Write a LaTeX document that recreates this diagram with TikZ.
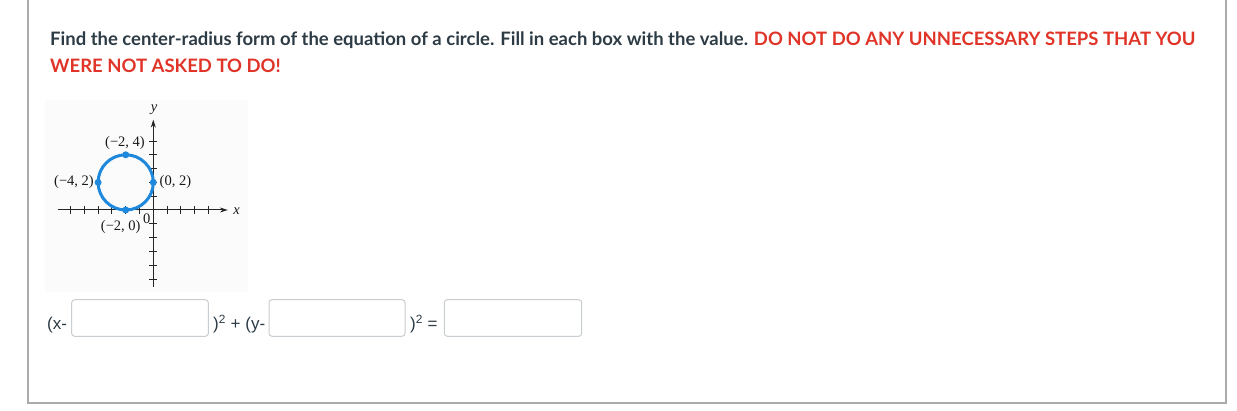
\documentclass[tikz,border=0pt]{standalone}
\usepackage{fontspec}
\setmainfont{Lato}
\newfontfamily\labelfont{Liberation Serif}
\newfontfamily\eqfont{Liberation Sans}
\usetikzlibrary{arrows.meta}
\definecolor{txt}{RGB}{45,59,69}
\definecolor{warn}{RGB}{224,52,40}
\definecolor{circ}{RGB}{30,136,220}
\definecolor{framec}{RGB}{170,170,170}
\definecolor{boxc}{RGB}{200,205,209}
\definecolor{graphbg}{RGB}{251,251,251}
\tikzset{
  qtext/.style={anchor=base west, inner sep=0pt, font=\fontsize{18.5}{27}\selectfont\bfseries},
  eqtext/.style={anchor=base west, inner sep=0pt, text=txt, font=\eqfont\fontsize{17}{20}\selectfont},
  inputbox/.style={draw=boxc, line width=1pt, rounded corners=3pt, minimum height=36.6pt, inner sep=0pt, fill=white},
  lab/.style={inner sep=0pt, font=\labelfont\fontsize{14.5}{16}\selectfont, text=black!90},
  dot/.style={circle, fill=circ, inner sep=0pt, minimum size=7pt},
  axis/.style={line width=1pt, black!85},
  tick/.style={line width=0.9pt, black!85}
}
\begin{document}
\begin{tikzpicture}[x=1pt,y=-1pt]
\useasboundingbox (0,0) rectangle (1237,411);
\draw[framec, line width=1.3pt] (28,-3) -- (28,403) -- (1226,403) -- (1226,-3);

\node[qtext, text=txt] (q1) at (50,46) {Find the center-radius form of the equation of a circle. Fill in each box with the value. \textcolor{warn}{DO NOT DO ANY UNNECESSARY STEPS THAT YOU}};
\node[qtext, text=warn] (q2) at (50,73) {WERE NOT ASKED TO DO!};

\fill[graphbg] (45,100) rectangle (248,292);

\begin{scope}[shift={(153.3,210)}, x=13.8pt, y=13.8pt]
  \coordinate (xl) at (-6.9,0);
  \coordinate (xr) at (5.4,0);
  \coordinate (yb) at (0,-5.55);
  \coordinate (yt) at (0,6.55);
  \draw[axis, -{Stealth[length=8pt,width=5pt]}] (xl) -- (xr);
  \draw[axis, -{Stealth[length=8pt,width=5pt]}] (yb) -- (yt);
  \foreach \i in {-6,...,-1,1,2,3,4} \draw[tick] (\i,-0.3) -- (\i,0.3);
  \foreach \j in {-5,...,-1,1,2,3,4,5} \draw[tick] (-0.3,\j) -- (0.3,\j);
  \draw[circ, line width=3pt] (-2,2) circle[radius=2];
  \node[dot] (ptop) at (-2,4) {};
  \node[dot] (pleft) at (-4,2) {};
  \node[dot] (pright) at (0,2) {};
  \node[dot] (pbot) at (-2,0) {};
  \node[lab] (ltop) at (-2.05,4.88) {(−2, 4)};
  \node[lab, anchor=east] (lleft) at (-4.3,2.0) {(−4, 2)};
  \node[lab, anchor=west] (lright) at (0.45,2.0) {(0, 2)};
  \node[lab] (lbot) at (-2.36,-1.21) {(−2, 0)};
  \node[lab] (lo) at (-0.48,-0.6) {0};
  \node[lab] (ly) at (0.05,7.25) {\itshape y};
  \node[lab] (lx) at (6.04,-0.1) {\itshape x};
\end{scope}

\node[eqtext] (e1) at (47,330) {(x-};
\node[inputbox, minimum width=136.6pt] (b1) at (140,318) {};
\node[eqtext] (e2) at (213,330) {)\textsuperscript{2} + (y-};
\node[inputbox, minimum width=136pt] (b2) at (337,318) {};
\node[eqtext] (e3) at (410,330) {)\textsuperscript{2} =};
\node[inputbox, minimum width=137.4pt] (b3) at (513,318) {};
\end{tikzpicture}
\end{document}
